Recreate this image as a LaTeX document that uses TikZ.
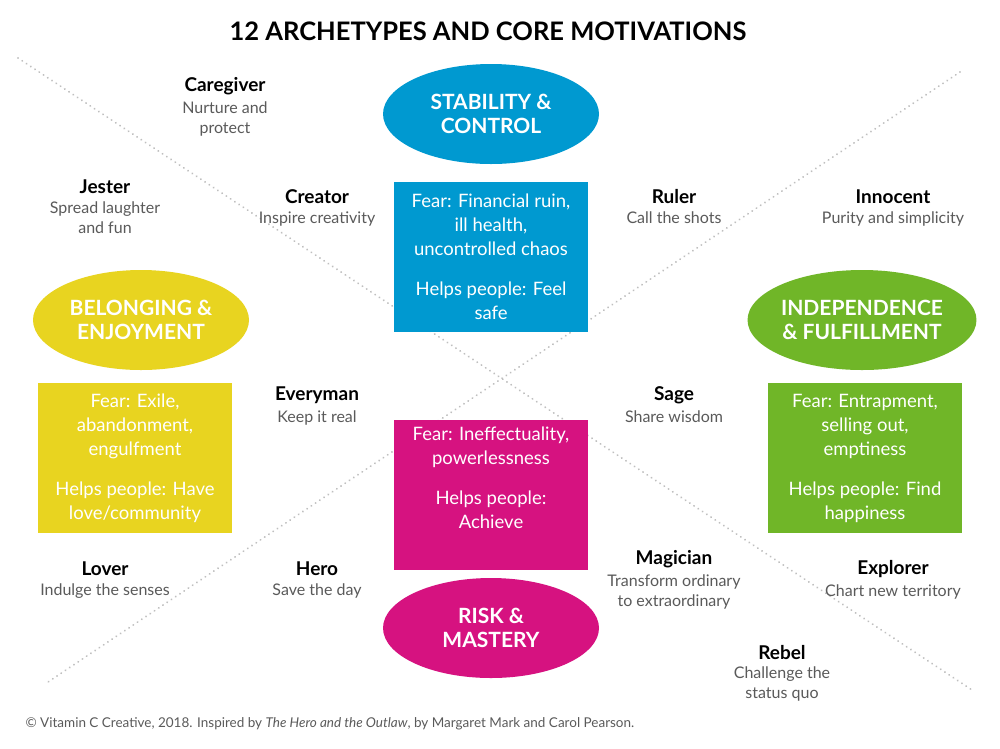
\documentclass[tikz,border=0pt]{standalone}
\usepackage{fontspec}
\setmainfont{Lato}
\usetikzlibrary{shapes.geometric}
\definecolor{cblue}{RGB}{0,153,208}
\definecolor{cyel}{RGB}{232,212,32}
\definecolor{cgreen}{RGB}{112,182,40}
\definecolor{cmag}{RGB}{214,18,128}
\definecolor{cgray}{RGB}{90,90,90}
\tikzset{
 ell/.style={ellipse,minimum width=216pt,minimum height=100pt,text=white,font=\fontsize{21}{24}\selectfont\bfseries,align=center,inner sep=0pt},
 bx/.style={minimum width=194pt,minimum height=150pt,text=white,font=\fontsize{18.5}{24}\selectfont,align=center,inner sep=2pt},
 nm/.style={font=\fontsize{19}{21}\selectfont\bfseries,align=center,inner sep=0pt},
 ds/.style={font=\fontsize{16}{20}\selectfont,text=cgray,align=center,inner sep=0pt,anchor=north},
 diag/.style={draw=gray!50,line width=2pt,dash pattern=on 0.1pt off 5pt,line cap=round}
}
\newcommand{\arch}[4]{\node[nm] (#1) at (#2) {#3}; \node[ds] (#1d) at ([yshift=-7pt]#1.south) {#4};}
\begin{document}
\begin{tikzpicture}[x=1pt,y=-1pt]
\useasboundingbox[fill=white] (0,0) rectangle (1000,748);
\coordinate (l1a) at (18,58); \coordinate (l1b) at (972,690);
\coordinate (l2a) at (960,72); \coordinate (l2b) at (48,682);
\draw[diag] (l1a) -- (l1b);
\draw[diag] (l2a) -- (l2b);
\node[font=\fontsize{25.5}{28}\selectfont\bfseries] (title) at (488,31) {12 ARCHETYPES AND CORE MOTIVATIONS};
\node[ell,fill=cblue] (stab) at (491,114) {STABILITY \&\\CONTROL};
\node[bx,fill=cblue,anchor=north] (stabb) at (491,182) {Fear: Financial ruin,\\ill health,\\uncontrolled chaos\\[16pt]Helps people: Feel\\safe};
\node[ell,fill=cyel] (bel) at (141,320) {BELONGING \&\\ENJOYMENT};
\node[bx,fill=cyel,anchor=north] (belb) at (135,383) {Fear: Exile,\\abandonment,\\engulfment\\[16pt]Helps people: Have\\love/community};
\node[ell,fill=cgreen] (ind) at (862,320) {INDEPENDENCE\\\& FULFILLMENT};
\node[bx,fill=cgreen,anchor=north] (indb) at (865,383) {Fear: Entrapment,\\selling out,\\emptiness\\[16pt]Helps people: Find\\happiness};
\node[bx,fill=cmag,anchor=north] (riskb) at (491,420) {Fear: Ineffectuality,\\powerlessness\\[16pt]Helps people:\\Achieve\\[12pt]};
\node[ell,fill=cmag] (risk) at (491,628) {RISK \&\\MASTERY};
\arch{care}{225,86}{Caregiver}{Nurture and\\protect}
\arch{jest}{105,187}{Jester}{Spread laughter\\and fun}
\arch{crea}{317,197}{Creator}{Inspire creativity}
\arch{rul}{674,197}{Ruler}{Call the shots}
\arch{inn}{893,197}{Innocent}{Purity and simplicity}
\arch{every}{317,395}{Everyman}{Keep it real}
\arch{sage}{674,395}{Sage}{Share wisdom}
\arch{lov}{105,569}{Lover}{Indulge the senses}
\arch{hero}{317,569}{Hero}{Save the day}
\arch{mag}{674,559}{Magician}{Transform ordinary\\to extraordinary}
\arch{exp}{893,569}{Explorer}{Chart new territory}
\arch{reb}{782,652}{Rebel}{Challenge the\\status quo}
\node[anchor=west,font=\fontsize{13.5}{15}\selectfont,text=cgray] (copy) at (22,724) {© Vitamin C Creative, 2018. Inspired by \textit{The Hero and the Outlaw}, by Margaret Mark and Carol Pearson.};
\end{tikzpicture}
\end{document}
